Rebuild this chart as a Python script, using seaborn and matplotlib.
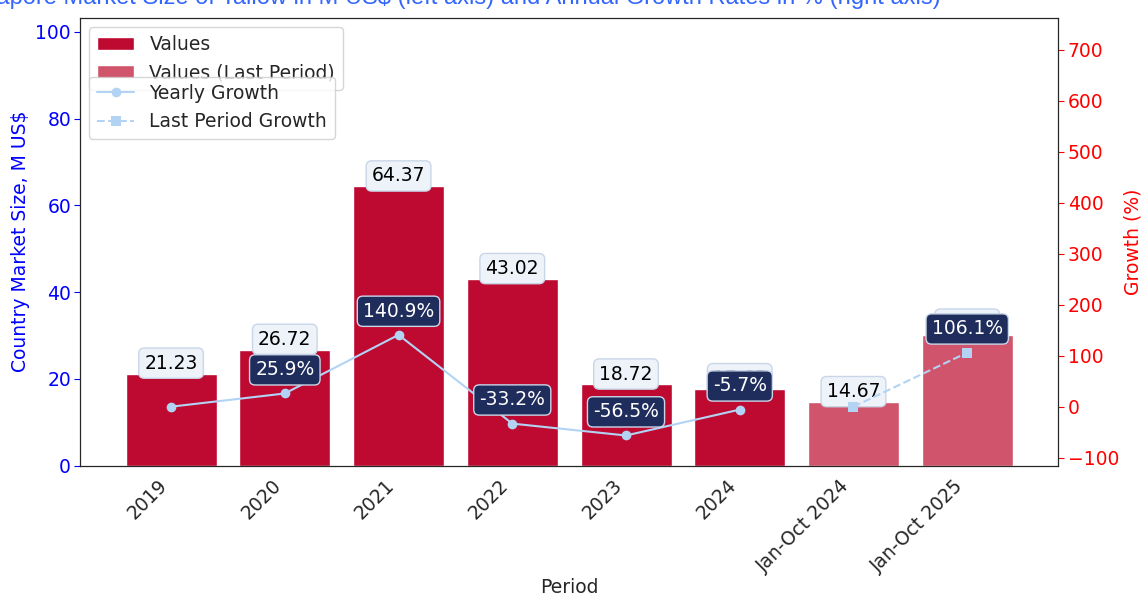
import matplotlib
matplotlib.use("Agg")
import matplotlib.pyplot as plt
import numpy as np
import pandas as pd
import seaborn as sns

# chart data
periods = ['2019', '2020', '2021', '2022', '2023', '2024', 'Jan-Oct 2024', 'Jan-Oct 2025']
values = [21.23, 26.72, 64.37, 43.02, 18.72, 17.65, 14.67, 30.23]
kinds = ['Values'] * 6 + ['Values (Last Period)'] * 2
yearly_growth = [0.0, 25.9, 140.9, -33.2, -56.5, -5.7]
last_growth = [0.0, 106.1]
growth_labels = [None, '25.9%', '140.9%', '-33.2%', '-56.5%', '-5.7%', None, '106.1%']

df = pd.DataFrame({'Period': periods, 'Value': values, 'Kind': kinds})

sns.set_style('white')
plt.rcParams['font.family'] = ['DejaVu Sans']

fig, ax = plt.subplots(figsize=(11.44, 5.97), dpi=100)
fig.subplots_adjust(left=0.07, right=0.925, top=0.97, bottom=0.22)

bar_red = '#BE0A30'
bar_light = '#D0546B'
line_col = '#B3D3F5'
fs = 13.5

sns.barplot(data=df, x='Period', y='Value', hue='Kind', dodge=False,
            palette={'Values': bar_red, 'Values (Last Period)': bar_light},
            width=0.8, saturation=1, ax=ax)
ax.set_xlim(-0.8, 7.8)
ax.set_ylim(0, 103.2)
ax.set_ylabel('Country Market Size, M US$', color='blue', fontsize=fs, labelpad=4)
ax.set_xlabel('Period', fontsize=fs, labelpad=2)
ax.tick_params(axis='y', colors='blue', labelsize=fs, length=4, pad=2.5)
ax.tick_params(axis='x', labelsize=fs, length=4)
ax.set_xticks(range(len(periods)))
ax.set_xticklabels(periods, rotation=45, ha='right')
for s in ax.spines.values():
    s.set_color('black')

for i, v in enumerate(values):
    ax.annotate(f'{v:.2f}', (i, v), xytext=(0, 7.5), textcoords='offset points',
                ha='center', va='center', fontsize=fs, color='black',
                bbox=dict(boxstyle='round,pad=0.3', fc='#EEF3FA', ec='#C9D6E8', lw=1))

ax.legend(loc='upper left', fontsize=13.5, frameon=True)

ax2 = ax.twinx()
sns.lineplot(x=list(range(6)), y=yearly_growth, marker='o', color=line_col,
             markersize=7, markeredgewidth=0, label='Yearly Growth', ax=ax2)
sns.lineplot(x=[6, 7], y=last_growth, marker='s', color=line_col, linestyle='--',
             markersize=7, markeredgewidth=0, label='Last Period Growth', ax=ax2)
ax2.set_ylim(-115.7, 762.7)
ax2.set_ylabel('Growth (%)', color='red', fontsize=fs, labelpad=3)
ax2.tick_params(axis='y', colors='red', labelsize=fs, length=4, pad=3)
ax2.set_yticks(range(-100, 701, 100))
ax2.legend(loc='upper left', bbox_to_anchor=(0, 0.89), fontsize=13.5, frameon=True)

growth_all = yearly_growth + last_growth
for i, lab in enumerate(growth_labels):
    if lab is None:
        continue
    ax2.annotate(lab, (i, growth_all[i]), xytext=(0, 17), textcoords='offset points',
                 ha='center', va='center', fontsize=fs, color='white',
                 bbox=dict(boxstyle='round,pad=0.3', fc='#1F2D5C', ec='#C9D6E8', lw=1))

fig.text(0.822, 0.9925, 'Singapore Market Size of Tallow in M US$ (left axis) and Annual Growth Rates in % (right axis)',
         ha='right', va='baseline', fontsize=17, color='#3366FF', family='Liberation Sans')

fig.savefig('out.png', dpi=100)
